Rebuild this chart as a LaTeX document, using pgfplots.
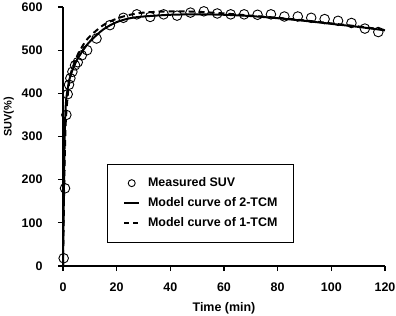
\documentclass[border=0pt]{standalone}
\usepackage{pgfplots}
\pgfplotsset{compat=1.18}
\usepackage{fontspec}
\setmainfont{Liberation Sans}
\pgfplotsset{
  legcirc/.style={legend image code/.code={\draw[##1, mark size=3.5bp] plot coordinates {(7.5bp,0bp)};}},
  legline/.style={legend image code/.code={\draw[##1, line width=1.7pt] (0bp,0bp) -- (15bp,0bp);}},
  legdash/.style={legend image code/.code={\draw[##1, line width=1.7pt, dash pattern=on 4.5bp off 4.5bp] (0bp,0bp) -- (15bp,0bp);}},
}
\begin{document}
\begin{tikzpicture}
\begin{axis}[
  scale only axis,
  width=322bp, height=259bp,
  xmin=0, xmax=120, ymin=0, ymax=600,
  axis lines=left,
  axis line style={line width=1.3pt, -},
  xtick={0,20,...,120}, ytick={0,100,...,600},
  tick style={line width=1.2pt, black},
  tick align=outside,
  major tick length=5bp,
  /pgf/number format/assume math mode=true,
  ticklabel style={font=\bfseries\fontsize{12.5}{14}\selectfont},
  xticklabel style={yshift=-8bp},
  yticklabel style={xshift=-12bp},
  xlabel={Time (min)},
  ylabel={SUV(\%)},
  xlabel style={font=\bfseries\fontsize{12.5}{14}\selectfont, at={(axis description cs:0.5,-0.162)}, anchor=center},
  ylabel style={font=\bfseries\fontsize{11}{13}\selectfont, at={(axis description cs:-0.168,0.575)}, anchor=center},
  legend style={at={(0.1366,0.3938)}, anchor=north west, draw=black, line width=0.8pt,
    font=\bfseries\fontsize{12.5}{14}\selectfont, inner xsep=16bp, inner ysep=13bp,
    row sep=8.5bp, column sep=8bp,
    nodes={inner sep=0pt, text height=9bp, text depth=2.5bp}},
  legend cell align=left,
  clip=false,
]
\coordinate (bl) at (rel axis cs:0,0);
\addplot[only marks, mark=o, mark size=4.8bp, mark options={line width=0.9pt, fill=white}, black, legcirc] coordinates {
(0.25,18) (0.75,180) (1.25,350) (1.75,398) (2.25,420) (2.75,435) (3.5,450) (4.5,465) (5.5,472) (7,488) (9,500)
(12.5,527) (17.5,558) (22.5,575) (27.5,583) (32.5,577) (37.5,583) (42.5,580) (47.5,587) (52.5,590) (57.5,585)
(62.5,583) (67.5,583) (72.5,582) (77.5,583) (82.5,578) (87.5,578) (92.5,575) (97.5,572) (102.5,568)
(107.5,563) (112.5,550) (117.5,542)
};
\addlegendentry{Measured SUV}
\addplot[black, line width=2pt, smooth, legline] coordinates {
(0,0) (0.5,250) (1,370) (2,420) (3,445) (5,475) (7.5,500) (10,520) (15,548) (20,565) (25,574) (30,578)
(40,582) (50,583) (60,582) (70,579) (80,574) (90,568) (100,561) (110,554) (120,546)
};
\addlegendentry{Model curve of 2-TCM}
\addplot[black, line width=2pt, dash pattern=on 6bp off 4bp, smooth, legdash] coordinates {
(0,0) (0.5,200) (1,330) (2,410) (3,448) (5,482) (7.5,512) (10,532) (15,558) (20,573) (25,582) (30,587)
(40,590) (50,589) (60,585) (70,580) (80,575) (90,569) (100,562) (110,555) (120,547)
};
\addlegendentry{Model curve of 1-TCM}
\end{axis}
\pgfresetboundingbox
\path (bl) ++(-63bp,-50bp) rectangle ++(396bp,316bp);
\end{tikzpicture}
\end{document}
